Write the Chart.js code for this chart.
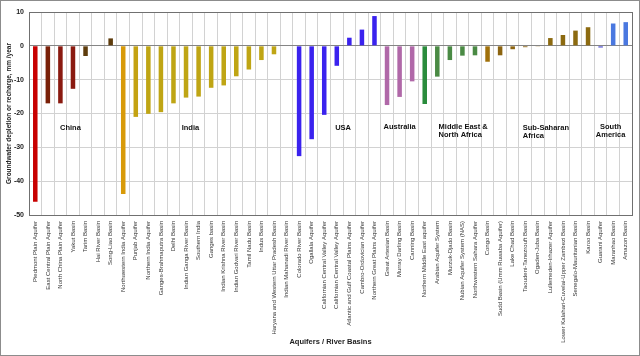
<!DOCTYPE html>
<html><head><meta charset="utf-8">
<script src="https://cdn.jsdelivr.net/npm/chart.js@4.4.1/dist/chart.umd.min.js"></script>
<style>
html,body{margin:0;padding:0;background:#fff;}
#wrap{position:absolute;left:0;top:0;width:640px;height:356px;box-sizing:border-box;border:1px solid #8c8c8c;background:#fff;}
canvas{display:block;}
</style></head><body>
<div id="wrap"><canvas id="c" width="638" height="354"></canvas></div>
<script>
const categories = [
  'Piedmont Plain Aquifer','East Central Plain Aquifer','North China Plain Aquifer','Yakut Basin','Tarim Basin','Hai River Basin','Song-Liao Basin',
  'Northwestern India Aquifer','Punjab Aquifer','Northern India Aquifer','Ganges-Brahmaputra Basin','Delhi Basin','Indian Ganga River Basin','Southern India','Ganges basin','Indian Krishna River Basin','Indian Godvari River Basin','Tamil Nadu Basin','Indus Basin','Haryana and Western Uttar Pradesh Basin','Indian Mahanadi River Basin',
  'Colorado River Basin','Ogallala Aquifer','Californian Central Valley Aquifer','Californian Central Valley Aquifer','Atlantic and Gulf Coastal Plains Aquifer','Cambro-Ordovician Aquifer','Northern Great Plains Aquifer',
  'Great Artesian Basin','Murray Darling Basin','Canning Basin',
  'Northern Middle East aquifer','Arabian Aquifer System','Murzuk-Djado Basin','Nubian Aquifer System (NAS)','Northwestern Sahara Aquifer',
  'Congo Basin','Sudd Basin (Umm Ruwaba Aquifer)','Lake Chad Basin','Taoudeni-Tanezrouft Basin','Ogaden-Juba Basin','Lullemeden-Irhazer Aquifer','Lower Kalahari-Cuvelai-Upper Zambezi Basin','Senegalo-Mauritanian Basin','Karoo Basin',
  'Guarani Aquifer','Maranhao Basin','Amazon Basin'
];
const values = [
  -46.1, -17.0, -17.0, -12.7, -3.0, 0, 2.2,
  -43.8, -21.0, -20.1, -19.6, -17.0, -15.3, -15.0, -12.4, -11.7, -9.0, -7.0, -4.2, -2.5, 0,
  -32.6, -27.6, -20.4, -5.9, 2.4, 4.8, 8.8,
  -17.5, -15.1, -10.5,
  -17.2, -9.1, -4.2, -2.9, -2.8,
  -4.7, -2.8, -1.0, -0.4, -0.2, 2.3, 3.2, 4.5, 5.5,
  -0.5, 6.6, 7.0
];
const yTickValues = [10, 0, -10, -20, -30, -40, -50];
const groupNames = ['China', 'India', 'USA', 'Australia', ['Middle East &', 'North Africa'], ['Sub-Saharan', 'Africa'], ['South', 'America']];
const groupAt = [2.8, 12.35, 24.5, 29.0, 32.1, 38.8, 45.8];
const groupLevel = [-24.3, -24.3, -24.3, -24.0, -24.0, -24.3, -24.0];

// styles (kept apart from data)
const groupAlign = ['center', 'center', 'center', 'center', 'left', 'left', 'center'];
const barColors = [
  '#c80000', '#7a2008', '#8a1a10', '#8a1a10', '#5e3c0c', '#5e3c0c', '#5e3c0c',
  '#d89a08', '#c4a212', '#bfa514', '#bfa514', '#bfa514', '#bfa514', '#bfa514', '#bfa514', '#bfa514', '#bfa514', '#bfa514', '#bfa514', '#bfa514', '#bfa514',
  '#3a22ee', '#3a22ee', '#3a22ee', '#3a22ee', '#3a22ee', '#3a22ee', '#3a22ee',
  '#b068a8', '#b068a8', '#b068a8',
  '#2a8c3c', '#4a8a44', '#4a8a44', '#4a8a44', '#4a8a44',
  '#a0700a', '#8c6410', '#8c6410', '#8c6410', '#8c6410', '#8c6a10', '#8c6a10', '#8c6a10', '#8c6a10',
  '#5050d0', '#4a78e0', '#4a78e0'
];

const FONT = '"Liberation Sans", Arial, sans-serif';

const overlay = {
  id: 'overlay',
  afterDatasetsDraw(chart) {
    const {ctx, chartArea: a, scales: {x, y}} = chart;
    ctx.save();
    ctx.strokeStyle = '#707070';
    ctx.lineWidth = 1;
    ctx.strokeRect(Math.round(a.left) + 0.5, Math.round(a.top) + 0.5, Math.round(a.right - a.left), Math.round(a.bottom - a.top));
    ctx.font = 'bold 7.5px ' + FONT;
    ctx.fillStyle = '#111';
    ctx.textBaseline = 'middle';
    groupNames.forEach((name, i) => {
      const lines = Array.isArray(name) ? name : [name];
      ctx.textAlign = groupAlign[i];
      const px = x.getPixelForValue(groupAt[i]);
      const py = y.getPixelForValue(groupLevel[i]);
      lines.forEach((t, j) => ctx.fillText(t, px, py + j * 8));
    });
    ctx.restore();
  }
};

new Chart(document.getElementById('c'), {
  type: 'bar',
  data: {
    labels: categories,
    datasets: [{
      data: values,
      backgroundColor: barColors,
      borderWidth: 0,
      barPercentage: 0.36,
      categoryPercentage: 1.0
    }]
  },
  options: {
    responsive: false,
    animation: false,
    events: [],
    layout: {padding: {left: 0, right: 6, top: 11, bottom: 0}},
    plugins: {legend: {display: false}, tooltip: {enabled: false}},
    scales: {
      x: {
        grid: {color: '#d2d2d2', drawTicks: false, offset: true},
        border: {display: false},
        ticks: {
          autoSkip: false, maxRotation: 90, minRotation: 90, padding: 6,
          font: {family: FONT, size: 6}, color: '#333'
        },
        title: {
          display: true, text: 'Aquifers / River Basins',
          font: {family: FONT, size: 7.5, weight: 'bold'}, color: '#222',
          padding: {top: 0, bottom: 9}
        },
        afterFit(s) { s.height = 140; }
      },
      y: {
        min: -50, max: 10,
        afterBuildTicks(s) { s.ticks = yTickValues.map(v => ({value: v})); },
        grid: {
          drawTicks: false,
          color: c => (c.tick && c.tick.value === 0) ? '#858585' : '#d2d2d2'
        },
        border: {display: false},
        ticks: {
          padding: 5,
          font: {family: FONT, size: 7, weight: 'bold'}, color: '#222'
        },
        title: {
          display: true, text: 'Groundwater depletion or recharge, mm /year',
          font: {family: FONT, size: 6.5, weight: 'bold'}, color: '#222',
          padding: {top: 4, bottom: 0}
        },
        afterFit(s) { s.width = 28; }
      }
    }
  },
  plugins: [overlay]
});
</script>
</body></html>
